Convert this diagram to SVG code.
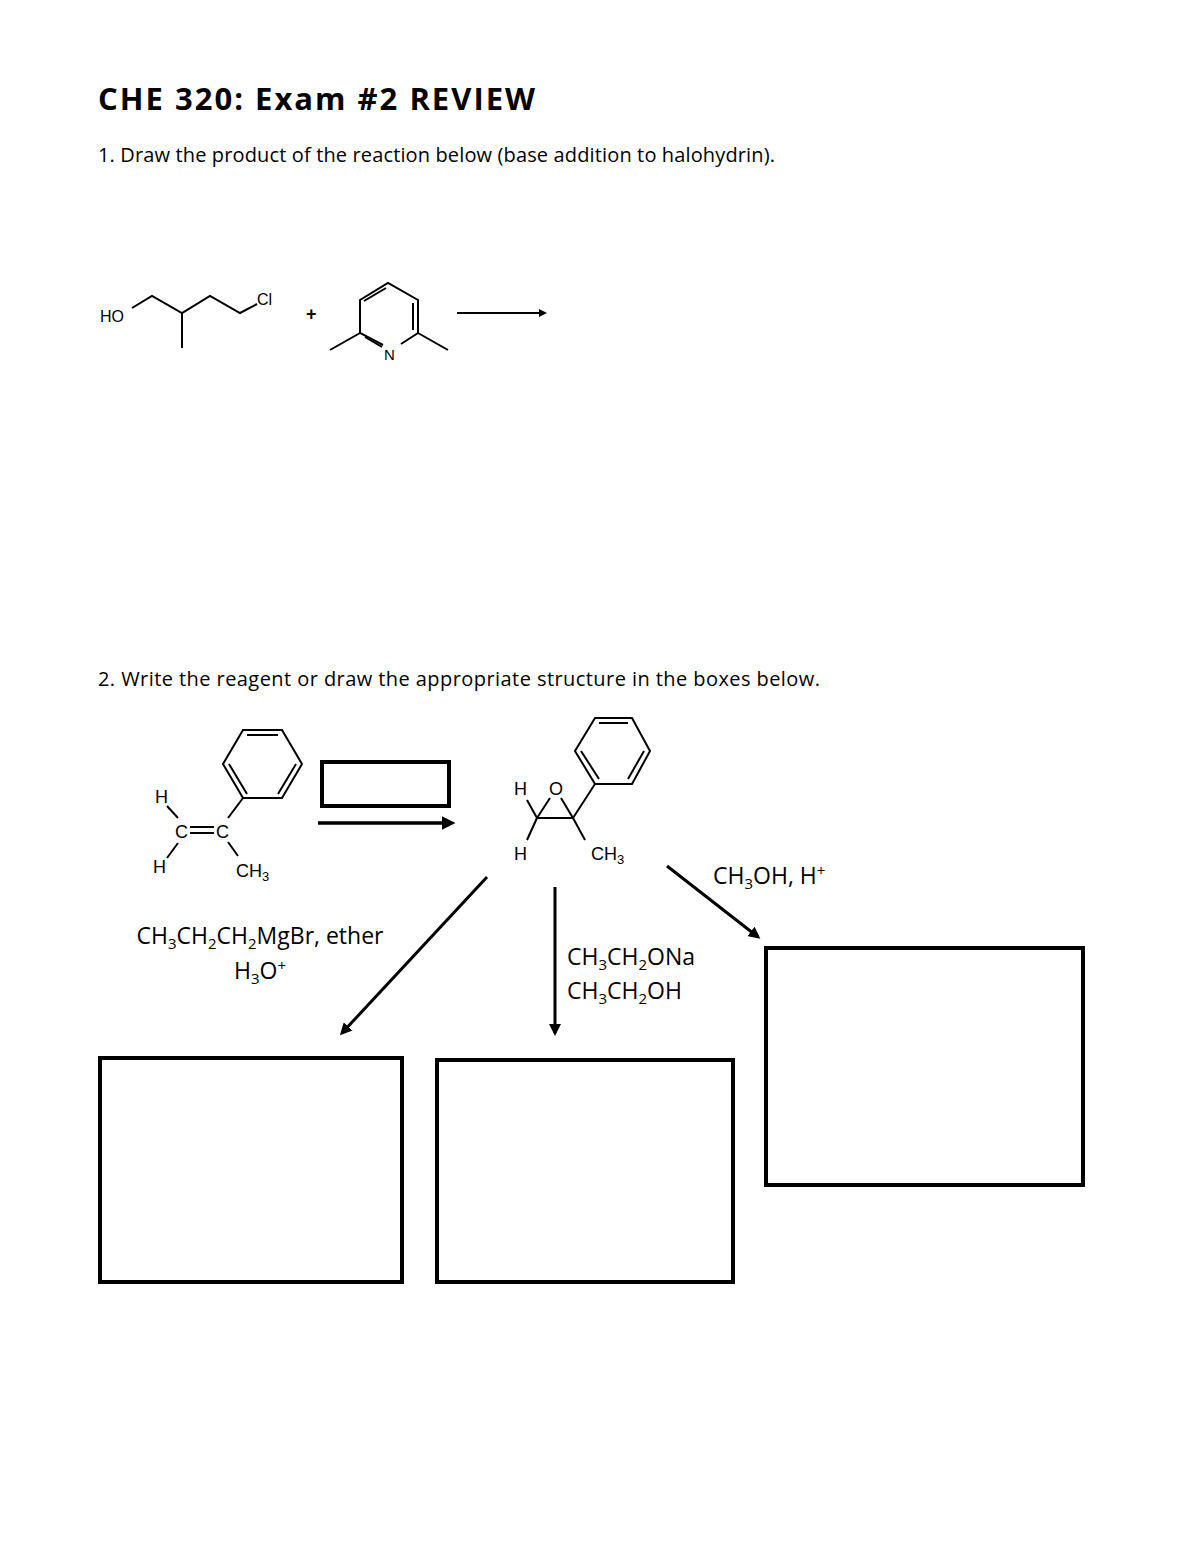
<svg xmlns="http://www.w3.org/2000/svg" width="1200" height="1553" viewBox="0 0 1200 1553">
<style>
.b{stroke:#000;stroke-width:2;fill:none}
.t{font-family:"Open Sans","Liberation Sans",sans-serif;fill:#000}
.s{font-family:"Liberation Sans",Arial,sans-serif;fill:#000}
.box{stroke:#000;stroke-width:4;fill:none}
.ar{stroke:#000;stroke-width:3;fill:none;marker-end:url(#ah)}
</style>
<defs><marker id="ah" markerWidth="4" markerHeight="4" refX="3" refY="2" orient="auto"><path d="M0,0L4,2L0,4z" fill="#000"/></marker></defs>
<rect width="1200" height="1553" fill="#fff"/>
<text class="t" x="98" y="110" font-size="31" font-weight="bold" textLength="437">CHE 320:  Exam #2 REVIEW</text>
<text class="t" x="98" y="162" font-size="20" textLength="677">1. Draw the product of the reaction below (base addition to halohydrin).</text>
<text class="t" x="98" y="686" font-size="20" textLength="722">2.  Write the reagent or draw the appropriate structure in the boxes below.</text>
<g id="halohydrin">
<text class="s" x="100" y="322" font-size="16">HO</text>
<polyline class="b" points="132,308 152,296 182,313 210,296 240,313 257,304"/>
<line class="b" x1="182" y1="313" x2="182" y2="348"/>
<text class="s" x="257" y="305" font-size="16">Cl</text>
</g>
<text class="s" x="306" y="320" font-size="18" font-weight="bold">+</text>
<g id="lutidine">
<polyline class="b" points="383,345 360,333 360,300 388,283 418,300 418,333 401,344"/>
<line class="b" x1="364" y1="301" x2="386" y2="288"/>
<line class="b" x1="413" y1="303" x2="413" y2="330"/>
<line class="b" x1="365" y1="337" x2="382" y2="347"/>
<line class="b" x1="360" y1="333" x2="330" y2="350"/>
<line class="b" x1="418" y1="333" x2="448" y2="350"/>
<text class="s" x="384" y="360" font-size="15">N</text>
</g>
<g id="connectors">
<line class="ar" x1="457" y1="313" x2="545" y2="313" style="stroke-width:2"/>
<line class="ar" x1="318" y1="823" x2="452" y2="823" style="stroke-width:3.5"/>
<line class="ar" x1="487" y1="877" x2="342" y2="1033"/>
<line class="ar" x1="555" y1="887" x2="555" y2="1033"/>
<line class="ar" x1="667" y1="866" x2="758" y2="937"/>
</g>
<g id="alkene">
<text class="s" x="155" y="803" font-size="18">H</text>
<text class="s" x="153" y="873" font-size="18">H</text>
<text class="s" x="175" y="838" font-size="18">C</text>
<text class="s" x="216" y="838" font-size="18">C</text>
<line class="b" x1="190" y1="827" x2="214" y2="827"/>
<line class="b" x1="190" y1="833" x2="214" y2="833"/>
<line class="b" x1="167" y1="806" x2="178" y2="818"/>
<line class="b" x1="167" y1="858" x2="178" y2="843"/>
<line class="b" x1="228" y1="818" x2="243" y2="798"/>
<line class="b" x1="228" y1="842" x2="238" y2="856"/>
<text class="s" x="236" y="877" font-size="18">CH<tspan font-size="13" dy="4">3</tspan></text>
<polygon class="b" points="243,730 282,730 302,764 282,798 243,798 223,764"/>
<line class="b" x1="247" y1="735" x2="278" y2="735"/>
<line class="b" x1="296" y1="764" x2="278" y2="794"/>
<line class="b" x1="229" y1="764" x2="247" y2="794"/>
</g>
<rect id="reagent-box" class="box" x="322" y="762" width="127" height="44"/>
<g id="epoxide">
<text class="s" x="514" y="795" font-size="18">H</text>
<text class="s" x="514" y="860" font-size="18">H</text>
<text class="s" x="549" y="795" font-size="18">O</text>
<line class="b" x1="537" y1="818" x2="573" y2="818"/>
<line class="b" x1="537" y1="818" x2="550" y2="798"/>
<line class="b" x1="573" y1="818" x2="561" y2="798"/>
<line class="b" x1="537" y1="818" x2="527" y2="800"/>
<line class="b" x1="537" y1="818" x2="527" y2="840"/>
<line class="b" x1="573" y1="818" x2="595" y2="784"/>
<line class="b" x1="573" y1="818" x2="585" y2="840"/>
<text class="s" x="591" y="860" font-size="18">CH<tspan font-size="13" dy="4">3</tspan></text>
<polygon class="b" points="595,718 632,718 650,751 632,784 595,784 575,751"/>
<line class="b" x1="599" y1="723" x2="628" y2="723"/>
<line class="b" x1="644" y1="751" x2="628" y2="779"/>
<line class="b" x1="581" y1="751" x2="599" y2="779"/>
</g>
<text class="t" x="260" y="944" font-size="23" text-anchor="middle">CH<tspan font-size="15" dy="5">3</tspan><tspan dy="-5">CH</tspan><tspan font-size="15" dy="5">2</tspan><tspan dy="-5">CH</tspan><tspan font-size="15" dy="5">2</tspan><tspan dy="-5">MgBr, ether</tspan></text>
<text class="t" x="260" y="979" font-size="23" text-anchor="middle">H<tspan font-size="15" dy="5">3</tspan><tspan dy="-5">O</tspan><tspan font-size="15" dy="-8">+</tspan></text>
<text class="t" x="567" y="965" font-size="23">CH<tspan font-size="15" dy="5">3</tspan><tspan dy="-5">CH</tspan><tspan font-size="15" dy="5">2</tspan><tspan dy="-5">ONa</tspan></text>
<text class="t" x="567" y="999" font-size="23">CH<tspan font-size="15" dy="5">3</tspan><tspan dy="-5">CH</tspan><tspan font-size="15" dy="5">2</tspan><tspan dy="-5">OH</tspan></text>
<text class="t" x="713" y="884" font-size="23">CH<tspan font-size="15" dy="5">3</tspan><tspan dy="-5">OH, H</tspan><tspan font-size="15" dy="-8">+</tspan></text>
<rect id="box-a" class="box" x="100" y="1058" width="302" height="224"/>
<rect id="box-b" class="box" x="437" y="1060" width="296" height="222"/>
<rect id="box-c" class="box" x="766" y="948" width="317" height="237"/>
</svg>
